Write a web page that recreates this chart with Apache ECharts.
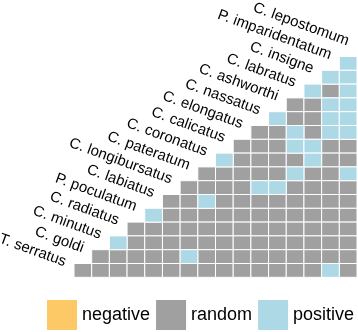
<!DOCTYPE html>
<html><head><meta charset="utf-8">
<script src="https://cdn.jsdelivr.net/npm/echarts@6/dist/echarts.min.js"></script>
<style>html,body{margin:0;padding:0;background:#fff}#c{width:358px;height:332px}</style>
</head><body><div id="c"></div>
<script>
// species along the diagonal, top (C. lepostomum) to bottom (T. serratus)
const species = ['C. lepostomum','P. imparidentatum','C. insigne','C. labratus','C. ashworthi',
  'C. nassatus','C. elongatus','C. calicatus','C. coronatus','C. pateratum','C. longibursatus',
  'C. labiatus','P. poculatum','C. radiatus','C. minutus','C. goldi','T. serratus'];
const categories = ['negative','random','positive'];
const catColors = ['#fdc966','#a0a0a0','#add8e6'];
// association code per row (row r has r+1 cells, rightmost columns): -1 negative, 0 random, 1 positive
const assoc = [
  [1],
  [1,1],
  [1,0,1],
  [0,0,1,1],
  [1,0,0,1,1],
  [0,0,1,0,1,1],
  [0,0,0,1,1,0,0],
  [1,0,0,0,0,1,0,0],
  [0,0,0,0,0,1,0,0,1],
  [0,0,0,0,1,1,0,0,0,0],
  [0,0,1,0,0,0,0,0,0,0,0],
  [1,0,0,0,0,0,0,0,0,0,0,0],
  [0,0,0,0,0,0,0,0,0,0,0,0,0],
  [1,0,0,0,0,0,0,0,0,0,0,0,0,0],
  [0,0,0,0,0,1,0,0,0,0,0,0,0,0,0],
  [0,0,0,0,0,0,0,0,0,0,0,0,0,0,1,0]
];
const N = assoc.length; // 16

const cells = [[],[],[]];
assoc.forEach((row, r) => {
  const start = N - row.length;
  row.forEach((v, i) => { cells[v + 1].push([start + i, r]); });
});

function cellItem(params, api) {
  const p0 = api.coord([api.value(0), api.value(1)]);
  const p1 = api.coord([api.value(0) + 1, api.value(1) + 1]);
  return {
    type: 'rect',
    shape: { x: p0[0], y: p0[1], width: p1[0] - p0[0], height: p1[1] - p0[1] },
    style: { fill: api.visual('color'), stroke: '#ffffff', lineWidth: 1 }
  };
}

const labelData = species.map((s, k) => [N - k, k - 0.5]);
function labelItem(params, api) {
  const p = api.coord([api.value(0), api.value(1)]);
  return {
    type: 'text',
    x: p[0] - 8.5, y: p[1] - 8,
    rotation: -20 * Math.PI / 180,
    style: {
      text: species[params.dataIndex], fill: '#000',
      font: '15px "Liberation Sans", Arial, sans-serif',
      textAlign: 'right', textVerticalAlign: 'middle'
    }
  };
}

const series = categories.map((name, i) => ({
  type: 'custom', name: name, renderItem: cellItem,
  itemStyle: { color: catColors[i] }, data: cells[i], clip: false, silent: true
}));
series.push({ type: 'custom', name: 'labels', renderItem: labelItem, data: labelData, clip: false, silent: true });

const chart = echarts.init(document.getElementById('c'), null, { renderer: 'canvas' });
chart.setOption({
  animation: false,
  grid: { left: 74, right: 1, top: 56.5, bottom: 54.7 },
  xAxis: { type: 'value', min: 0, max: N, show: false },
  yAxis: { type: 'value', min: 0, max: N, inverse: true, show: false },
  legend: {
    data: categories, left: 47, top: 300, width: 311, padding: 0,
    icon: 'rect', itemWidth: 30, itemHeight: 30,
    itemGap: 6, selectedMode: false,
    textStyle: { fontSize: 18, color: '#000', padding: [0, 0, 0, 0], fontFamily: '"Liberation Sans", Arial, sans-serif' }
  },
  series: series
});
</script></body></html>
